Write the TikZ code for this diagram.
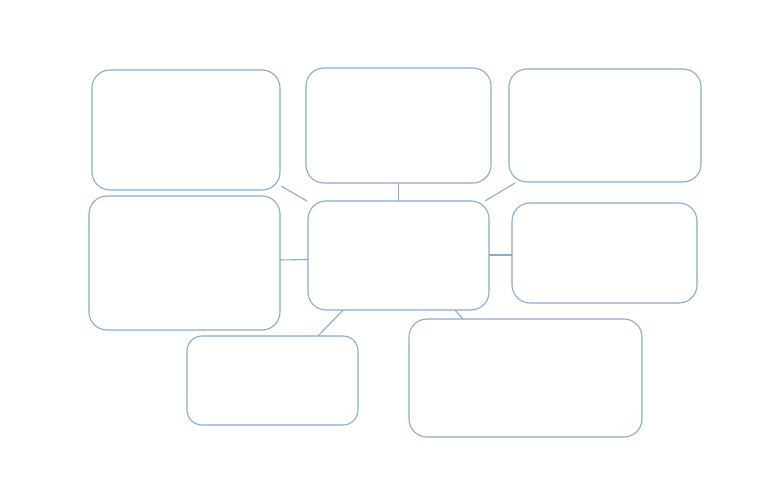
\documentclass[tikz,border=0pt]{standalone}
\usetikzlibrary{calc}
\definecolor{boxblue}{HTML}{88ABCE}
\begin{document}
\begin{tikzpicture}[x=1pt,y=-1pt,
  box/.style={draw=boxblue, line width=1.1pt, rounded corners=18pt, inner sep=0pt, outer sep=0pt},
  link/.style={draw=boxblue, line width=1.1pt}]
\useasboundingbox (0,0) rectangle (768,503);
\node[box, minimum width=188pt, minimum height=120pt] (tl) at (186,130) {};
\node[box, minimum width=185pt, minimum height=115pt] (tc) at (398.5,125.5) {};
\node[box, minimum width=192pt, minimum height=113pt] (tr) at (605,125.5) {};
\node[box, minimum width=191pt, minimum height=134pt] (ml) at (184.5,263) {};
\node[box, minimum width=181pt, minimum height=109pt] (c) at (398.5,255.5) {};
\node[box, minimum width=185pt, minimum height=100pt] (mr) at (604.5,253) {};
\node[box, rounded corners=15pt, minimum width=171pt, minimum height=89pt] (bl) at (272.5,380.5) {};
\node[box, minimum width=233pt, minimum height=118pt] (br) at (525.5,378) {};
\draw[link] ($(tl.south east)+(1,-4)$) -- ($(c.north west)+(-1,0)$);
\draw[link] (tc.south) -- (c.north);
\draw[link] ($(tr.south west)+(6,1)$) -- ($(c.north east)+(-4,0)$);
\draw[link] ($(ml.east)+(0,-3)$) -- ($(c.west)+(0,4)$);
\draw[link] ($(c.east)+(0,-0.5)$) -- ($(mr.west)+(0,2)$);
\draw[link] ($(c.south west)+(35,0)$) -- ($(bl.north west)+(131,0)$);
\draw[link] ($(c.south east)+(-34,0)$) -- ($(br.north west)+(54,0)$);
\end{tikzpicture}
\end{document}
